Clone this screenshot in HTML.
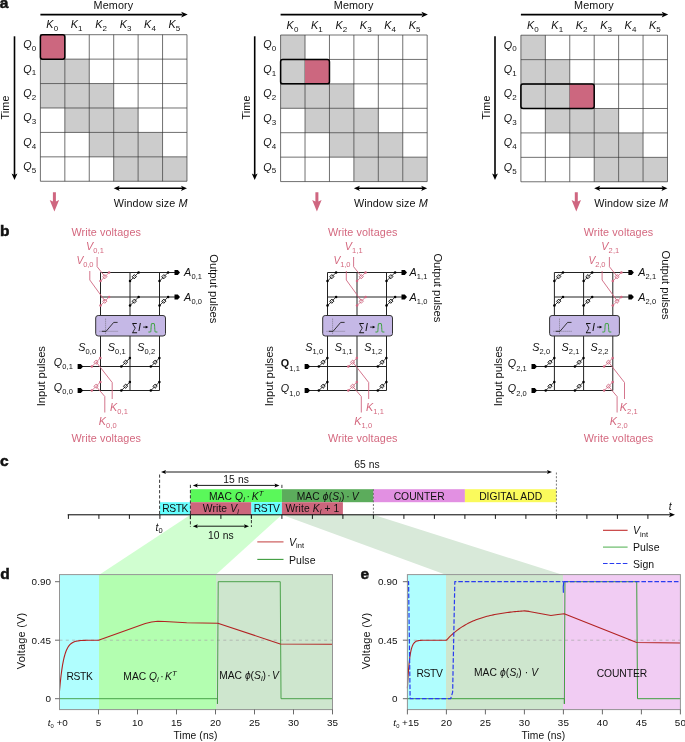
<!DOCTYPE html>
<html><head><meta charset="utf-8"><title>Figure</title>
<style>
html,body{margin:0;padding:0;background:#fff;}
svg{display:block;letter-spacing:0.1px;font-family:'Liberation Sans', sans-serif;fill:#111;}

</style></head><body>
<svg width="685" height="742" viewBox="0 0 685 742" font-family='"Liberation Sans", sans-serif'>
<rect x="40.40" y="34.70" width="24.43" height="24.43" fill="#cccccc"/>
<rect x="40.40" y="59.13" width="24.43" height="24.43" fill="#cccccc"/>
<rect x="64.83" y="59.13" width="24.43" height="24.43" fill="#cccccc"/>
<rect x="40.40" y="83.56" width="24.43" height="24.43" fill="#cccccc"/>
<rect x="64.83" y="83.56" width="24.43" height="24.43" fill="#cccccc"/>
<rect x="89.26" y="83.56" width="24.43" height="24.43" fill="#cccccc"/>
<rect x="64.83" y="107.99" width="24.43" height="24.43" fill="#cccccc"/>
<rect x="89.26" y="107.99" width="24.43" height="24.43" fill="#cccccc"/>
<rect x="113.69" y="107.99" width="24.43" height="24.43" fill="#cccccc"/>
<rect x="89.26" y="132.42" width="24.43" height="24.43" fill="#cccccc"/>
<rect x="113.69" y="132.42" width="24.43" height="24.43" fill="#cccccc"/>
<rect x="138.12" y="132.42" width="24.43" height="24.43" fill="#cccccc"/>
<rect x="113.69" y="156.85" width="24.43" height="24.43" fill="#cccccc"/>
<rect x="138.12" y="156.85" width="24.43" height="24.43" fill="#cccccc"/>
<rect x="162.55" y="156.85" width="24.43" height="24.43" fill="#cccccc"/>
<line x1="40.40" y1="34.7" x2="40.40" y2="181.28" stroke="#333" stroke-width="0.7"/>
<line x1="40.4" y1="34.70" x2="186.98" y2="34.70" stroke="#333" stroke-width="0.7"/>
<line x1="64.83" y1="34.7" x2="64.83" y2="181.28" stroke="#333" stroke-width="0.7"/>
<line x1="40.4" y1="59.13" x2="186.98" y2="59.13" stroke="#333" stroke-width="0.7"/>
<line x1="89.26" y1="34.7" x2="89.26" y2="181.28" stroke="#333" stroke-width="0.7"/>
<line x1="40.4" y1="83.56" x2="186.98" y2="83.56" stroke="#333" stroke-width="0.7"/>
<line x1="113.69" y1="34.7" x2="113.69" y2="181.28" stroke="#333" stroke-width="0.7"/>
<line x1="40.4" y1="107.99" x2="186.98" y2="107.99" stroke="#333" stroke-width="0.7"/>
<line x1="138.12" y1="34.7" x2="138.12" y2="181.28" stroke="#333" stroke-width="0.7"/>
<line x1="40.4" y1="132.42" x2="186.98" y2="132.42" stroke="#333" stroke-width="0.7"/>
<line x1="162.55" y1="34.7" x2="162.55" y2="181.28" stroke="#333" stroke-width="0.7"/>
<line x1="40.4" y1="156.85" x2="186.98" y2="156.85" stroke="#333" stroke-width="0.7"/>
<line x1="186.98" y1="34.7" x2="186.98" y2="181.28" stroke="#333" stroke-width="0.7"/>
<line x1="40.4" y1="181.28" x2="186.98" y2="181.28" stroke="#333" stroke-width="0.7"/>
<rect x="40.40" y="34.70" width="24.43" height="24.43" fill="#cc677f"/>
<rect x="40.40" y="34.70" width="24.43" height="24.43" rx="2.2" fill="none" stroke="#000" stroke-width="1.5"/>
<text x="52.31" y="28.40" text-anchor="middle" font-size="10.8"><tspan font-style="italic">K</tspan><tspan font-size="8.0" dy="3.0">0</tspan></text>
<text x="76.74" y="28.40" text-anchor="middle" font-size="10.8"><tspan font-style="italic">K</tspan><tspan font-size="8.0" dy="3.0">1</tspan></text>
<text x="101.17" y="28.40" text-anchor="middle" font-size="10.8"><tspan font-style="italic">K</tspan><tspan font-size="8.0" dy="3.0">2</tspan></text>
<text x="125.61" y="28.40" text-anchor="middle" font-size="10.8"><tspan font-style="italic">K</tspan><tspan font-size="8.0" dy="3.0">3</tspan></text>
<text x="150.03" y="28.40" text-anchor="middle" font-size="10.8"><tspan font-style="italic">K</tspan><tspan font-size="8.0" dy="3.0">4</tspan></text>
<text x="174.47" y="28.40" text-anchor="middle" font-size="10.8"><tspan font-style="italic">K</tspan><tspan font-size="8.0" dy="3.0">5</tspan></text>
<text x="36.20" y="48.12" text-anchor="end" font-size="10.8"><tspan font-style="italic">Q</tspan><tspan font-size="8.0" dy="2.8">0</tspan></text>
<text x="36.20" y="72.55" text-anchor="end" font-size="10.8"><tspan font-style="italic">Q</tspan><tspan font-size="8.0" dy="2.8">1</tspan></text>
<text x="36.20" y="96.98" text-anchor="end" font-size="10.8"><tspan font-style="italic">Q</tspan><tspan font-size="8.0" dy="2.8">2</tspan></text>
<text x="36.20" y="121.41" text-anchor="end" font-size="10.8"><tspan font-style="italic">Q</tspan><tspan font-size="8.0" dy="2.8">3</tspan></text>
<text x="36.20" y="145.83" text-anchor="end" font-size="10.8"><tspan font-style="italic">Q</tspan><tspan font-size="8.0" dy="2.8">4</tspan></text>
<text x="36.20" y="170.26" text-anchor="end" font-size="10.8"><tspan font-style="italic">Q</tspan><tspan font-size="8.0" dy="2.8">5</tspan></text>
<text x="113.40" y="9.1" text-anchor="middle" font-size="10.8">Memory</text>
<line x1="40.4" y1="14.6" x2="182.40" y2="14.6" stroke="#000" stroke-width="1.6"/>
<path d="M187.70 14.6 l-6.5 -2.9 l1.5 2.9 l-1.5 2.9 z" fill="#000"/>
<line x1="14.50" y1="36.3" x2="14.50" y2="175" stroke="#000" stroke-width="1.6"/>
<path d="M14.50 180 l-2.9 -6.5 l2.9 1.5 l2.9 -1.5 z" fill="#000"/>
<text transform="translate(9.30 107.5) rotate(-90)" text-anchor="middle" font-size="10.8">Time</text>
<line x1="117.69" y1="188.3" x2="182.98" y2="188.3" stroke="#000" stroke-width="1.5"/>
<path d="M113.69 188.3 l6 -2.6 l-1.4 2.6 l1.4 2.6 z" fill="#000"/>
<path d="M186.98 188.3 l-6 -2.6 l1.4 2.6 l-1.4 2.6 z" fill="#000"/>
<text x="187.60" y="206.8" text-anchor="end" font-size="10.8">Window size <tspan font-style="italic">M</tspan></text>
<path d="M52.90 192.3 h3 v9.3 l3.2 -1.6 l-4.7 11.6 l-4.7 -11.6 l3.2 1.6 z" fill="#cf6680"/>
<rect x="280.60" y="35.00" width="24.43" height="24.43" fill="#cccccc"/>
<rect x="280.60" y="59.43" width="24.43" height="24.43" fill="#cccccc"/>
<rect x="305.03" y="59.43" width="24.43" height="24.43" fill="#cccccc"/>
<rect x="280.60" y="83.86" width="24.43" height="24.43" fill="#cccccc"/>
<rect x="305.03" y="83.86" width="24.43" height="24.43" fill="#cccccc"/>
<rect x="329.46" y="83.86" width="24.43" height="24.43" fill="#cccccc"/>
<rect x="305.03" y="108.29" width="24.43" height="24.43" fill="#cccccc"/>
<rect x="329.46" y="108.29" width="24.43" height="24.43" fill="#cccccc"/>
<rect x="353.89" y="108.29" width="24.43" height="24.43" fill="#cccccc"/>
<rect x="329.46" y="132.72" width="24.43" height="24.43" fill="#cccccc"/>
<rect x="353.89" y="132.72" width="24.43" height="24.43" fill="#cccccc"/>
<rect x="378.32" y="132.72" width="24.43" height="24.43" fill="#cccccc"/>
<rect x="353.89" y="157.15" width="24.43" height="24.43" fill="#cccccc"/>
<rect x="378.32" y="157.15" width="24.43" height="24.43" fill="#cccccc"/>
<rect x="402.75" y="157.15" width="24.43" height="24.43" fill="#cccccc"/>
<line x1="280.60" y1="35.0" x2="280.60" y2="181.58" stroke="#333" stroke-width="0.7"/>
<line x1="280.6" y1="35.00" x2="427.18" y2="35.00" stroke="#333" stroke-width="0.7"/>
<line x1="305.03" y1="35.0" x2="305.03" y2="181.58" stroke="#333" stroke-width="0.7"/>
<line x1="280.6" y1="59.43" x2="427.18" y2="59.43" stroke="#333" stroke-width="0.7"/>
<line x1="329.46" y1="35.0" x2="329.46" y2="181.58" stroke="#333" stroke-width="0.7"/>
<line x1="280.6" y1="83.86" x2="427.18" y2="83.86" stroke="#333" stroke-width="0.7"/>
<line x1="353.89" y1="35.0" x2="353.89" y2="181.58" stroke="#333" stroke-width="0.7"/>
<line x1="280.6" y1="108.29" x2="427.18" y2="108.29" stroke="#333" stroke-width="0.7"/>
<line x1="378.32" y1="35.0" x2="378.32" y2="181.58" stroke="#333" stroke-width="0.7"/>
<line x1="280.6" y1="132.72" x2="427.18" y2="132.72" stroke="#333" stroke-width="0.7"/>
<line x1="402.75" y1="35.0" x2="402.75" y2="181.58" stroke="#333" stroke-width="0.7"/>
<line x1="280.6" y1="157.15" x2="427.18" y2="157.15" stroke="#333" stroke-width="0.7"/>
<line x1="427.18" y1="35.0" x2="427.18" y2="181.58" stroke="#333" stroke-width="0.7"/>
<line x1="280.6" y1="181.58" x2="427.18" y2="181.58" stroke="#333" stroke-width="0.7"/>
<rect x="305.03" y="59.43" width="24.43" height="24.43" fill="#cc677f"/>
<rect x="280.60" y="59.43" width="48.86" height="24.43" rx="2.2" fill="none" stroke="#000" stroke-width="1.5"/>
<text x="292.51" y="28.70" text-anchor="middle" font-size="10.8"><tspan font-style="italic">K</tspan><tspan font-size="8.0" dy="3.0">0</tspan></text>
<text x="316.94" y="28.70" text-anchor="middle" font-size="10.8"><tspan font-style="italic">K</tspan><tspan font-size="8.0" dy="3.0">1</tspan></text>
<text x="341.38" y="28.70" text-anchor="middle" font-size="10.8"><tspan font-style="italic">K</tspan><tspan font-size="8.0" dy="3.0">2</tspan></text>
<text x="365.81" y="28.70" text-anchor="middle" font-size="10.8"><tspan font-style="italic">K</tspan><tspan font-size="8.0" dy="3.0">3</tspan></text>
<text x="390.24" y="28.70" text-anchor="middle" font-size="10.8"><tspan font-style="italic">K</tspan><tspan font-size="8.0" dy="3.0">4</tspan></text>
<text x="414.67" y="28.70" text-anchor="middle" font-size="10.8"><tspan font-style="italic">K</tspan><tspan font-size="8.0" dy="3.0">5</tspan></text>
<text x="276.40" y="48.42" text-anchor="end" font-size="10.8"><tspan font-style="italic">Q</tspan><tspan font-size="8.0" dy="2.8">0</tspan></text>
<text x="276.40" y="72.84" text-anchor="end" font-size="10.8"><tspan font-style="italic">Q</tspan><tspan font-size="8.0" dy="2.8">1</tspan></text>
<text x="276.40" y="97.28" text-anchor="end" font-size="10.8"><tspan font-style="italic">Q</tspan><tspan font-size="8.0" dy="2.8">2</tspan></text>
<text x="276.40" y="121.70" text-anchor="end" font-size="10.8"><tspan font-style="italic">Q</tspan><tspan font-size="8.0" dy="2.8">3</tspan></text>
<text x="276.40" y="146.13" text-anchor="end" font-size="10.8"><tspan font-style="italic">Q</tspan><tspan font-size="8.0" dy="2.8">4</tspan></text>
<text x="276.40" y="170.56" text-anchor="end" font-size="10.8"><tspan font-style="italic">Q</tspan><tspan font-size="8.0" dy="2.8">5</tspan></text>
<text x="353.60" y="9.1" text-anchor="middle" font-size="10.8">Memory</text>
<line x1="280.6" y1="14.6" x2="422.60" y2="14.6" stroke="#000" stroke-width="1.6"/>
<path d="M427.90 14.6 l-6.5 -2.9 l1.5 2.9 l-1.5 2.9 z" fill="#000"/>
<line x1="254.70" y1="36.3" x2="254.70" y2="175" stroke="#000" stroke-width="1.6"/>
<path d="M254.70 180 l-2.9 -6.5 l2.9 1.5 l2.9 -1.5 z" fill="#000"/>
<text transform="translate(249.50 107.5) rotate(-90)" text-anchor="middle" font-size="10.8">Time</text>
<line x1="357.89" y1="188.3" x2="423.18" y2="188.3" stroke="#000" stroke-width="1.5"/>
<path d="M353.89 188.3 l6 -2.6 l-1.4 2.6 l1.4 2.6 z" fill="#000"/>
<path d="M427.18 188.3 l-6 -2.6 l1.4 2.6 l-1.4 2.6 z" fill="#000"/>
<text x="427.80" y="206.8" text-anchor="end" font-size="10.8">Window size <tspan font-style="italic">M</tspan></text>
<path d="M315.40 192.3 h3 v9.3 l3.2 -1.6 l-4.7 11.6 l-4.7 -11.6 l3.2 1.6 z" fill="#cf6680"/>
<rect x="520.90" y="35.20" width="24.43" height="24.43" fill="#cccccc"/>
<rect x="520.90" y="59.63" width="24.43" height="24.43" fill="#cccccc"/>
<rect x="545.33" y="59.63" width="24.43" height="24.43" fill="#cccccc"/>
<rect x="520.90" y="84.06" width="24.43" height="24.43" fill="#cccccc"/>
<rect x="545.33" y="84.06" width="24.43" height="24.43" fill="#cccccc"/>
<rect x="569.76" y="84.06" width="24.43" height="24.43" fill="#cccccc"/>
<rect x="545.33" y="108.49" width="24.43" height="24.43" fill="#cccccc"/>
<rect x="569.76" y="108.49" width="24.43" height="24.43" fill="#cccccc"/>
<rect x="594.19" y="108.49" width="24.43" height="24.43" fill="#cccccc"/>
<rect x="569.76" y="132.92" width="24.43" height="24.43" fill="#cccccc"/>
<rect x="594.19" y="132.92" width="24.43" height="24.43" fill="#cccccc"/>
<rect x="618.62" y="132.92" width="24.43" height="24.43" fill="#cccccc"/>
<rect x="594.19" y="157.35" width="24.43" height="24.43" fill="#cccccc"/>
<rect x="618.62" y="157.35" width="24.43" height="24.43" fill="#cccccc"/>
<rect x="643.05" y="157.35" width="24.43" height="24.43" fill="#cccccc"/>
<line x1="520.90" y1="35.2" x2="520.90" y2="181.78" stroke="#333" stroke-width="0.7"/>
<line x1="520.9" y1="35.20" x2="667.48" y2="35.20" stroke="#333" stroke-width="0.7"/>
<line x1="545.33" y1="35.2" x2="545.33" y2="181.78" stroke="#333" stroke-width="0.7"/>
<line x1="520.9" y1="59.63" x2="667.48" y2="59.63" stroke="#333" stroke-width="0.7"/>
<line x1="569.76" y1="35.2" x2="569.76" y2="181.78" stroke="#333" stroke-width="0.7"/>
<line x1="520.9" y1="84.06" x2="667.48" y2="84.06" stroke="#333" stroke-width="0.7"/>
<line x1="594.19" y1="35.2" x2="594.19" y2="181.78" stroke="#333" stroke-width="0.7"/>
<line x1="520.9" y1="108.49" x2="667.48" y2="108.49" stroke="#333" stroke-width="0.7"/>
<line x1="618.62" y1="35.2" x2="618.62" y2="181.78" stroke="#333" stroke-width="0.7"/>
<line x1="520.9" y1="132.92" x2="667.48" y2="132.92" stroke="#333" stroke-width="0.7"/>
<line x1="643.05" y1="35.2" x2="643.05" y2="181.78" stroke="#333" stroke-width="0.7"/>
<line x1="520.9" y1="157.35" x2="667.48" y2="157.35" stroke="#333" stroke-width="0.7"/>
<line x1="667.48" y1="35.2" x2="667.48" y2="181.78" stroke="#333" stroke-width="0.7"/>
<line x1="520.9" y1="181.78" x2="667.48" y2="181.78" stroke="#333" stroke-width="0.7"/>
<rect x="569.76" y="84.06" width="24.43" height="24.43" fill="#cc677f"/>
<rect x="520.90" y="84.06" width="73.29" height="24.43" rx="2.2" fill="none" stroke="#000" stroke-width="1.5"/>
<text x="532.82" y="28.90" text-anchor="middle" font-size="10.8"><tspan font-style="italic">K</tspan><tspan font-size="8.0" dy="3.0">0</tspan></text>
<text x="557.25" y="28.90" text-anchor="middle" font-size="10.8"><tspan font-style="italic">K</tspan><tspan font-size="8.0" dy="3.0">1</tspan></text>
<text x="581.68" y="28.90" text-anchor="middle" font-size="10.8"><tspan font-style="italic">K</tspan><tspan font-size="8.0" dy="3.0">2</tspan></text>
<text x="606.11" y="28.90" text-anchor="middle" font-size="10.8"><tspan font-style="italic">K</tspan><tspan font-size="8.0" dy="3.0">3</tspan></text>
<text x="630.54" y="28.90" text-anchor="middle" font-size="10.8"><tspan font-style="italic">K</tspan><tspan font-size="8.0" dy="3.0">4</tspan></text>
<text x="654.97" y="28.90" text-anchor="middle" font-size="10.8"><tspan font-style="italic">K</tspan><tspan font-size="8.0" dy="3.0">5</tspan></text>
<text x="516.70" y="48.62" text-anchor="end" font-size="10.8"><tspan font-style="italic">Q</tspan><tspan font-size="8.0" dy="2.8">0</tspan></text>
<text x="516.70" y="73.05" text-anchor="end" font-size="10.8"><tspan font-style="italic">Q</tspan><tspan font-size="8.0" dy="2.8">1</tspan></text>
<text x="516.70" y="97.48" text-anchor="end" font-size="10.8"><tspan font-style="italic">Q</tspan><tspan font-size="8.0" dy="2.8">2</tspan></text>
<text x="516.70" y="121.91" text-anchor="end" font-size="10.8"><tspan font-style="italic">Q</tspan><tspan font-size="8.0" dy="2.8">3</tspan></text>
<text x="516.70" y="146.33" text-anchor="end" font-size="10.8"><tspan font-style="italic">Q</tspan><tspan font-size="8.0" dy="2.8">4</tspan></text>
<text x="516.70" y="170.76" text-anchor="end" font-size="10.8"><tspan font-style="italic">Q</tspan><tspan font-size="8.0" dy="2.8">5</tspan></text>
<text x="593.90" y="9.1" text-anchor="middle" font-size="10.8">Memory</text>
<line x1="520.9" y1="14.6" x2="662.90" y2="14.6" stroke="#000" stroke-width="1.6"/>
<path d="M668.20 14.6 l-6.5 -2.9 l1.5 2.9 l-1.5 2.9 z" fill="#000"/>
<line x1="495.00" y1="36.3" x2="495.00" y2="175" stroke="#000" stroke-width="1.6"/>
<path d="M495.00 180 l-2.9 -6.5 l2.9 1.5 l2.9 -1.5 z" fill="#000"/>
<text transform="translate(489.80 107.5) rotate(-90)" text-anchor="middle" font-size="10.8">Time</text>
<line x1="598.19" y1="188.3" x2="663.48" y2="188.3" stroke="#000" stroke-width="1.5"/>
<path d="M594.19 188.3 l6 -2.6 l-1.4 2.6 l1.4 2.6 z" fill="#000"/>
<path d="M667.48 188.3 l-6 -2.6 l1.4 2.6 l-1.4 2.6 z" fill="#000"/>
<text x="668.10" y="206.8" text-anchor="end" font-size="10.8">Window size <tspan font-style="italic">M</tspan></text>
<path d="M574.80 192.3 h3 v9.3 l3.2 -1.6 l-4.7 11.6 l-4.7 -11.6 l3.2 1.6 z" fill="#cf6680"/>
<line x1="100.50" y1="272.5" x2="100.50" y2="390.5" stroke="#222" stroke-width="1"/>
<line x1="130.00" y1="272.5" x2="130.00" y2="390.5" stroke="#222" stroke-width="1"/>
<line x1="159.50" y1="272.5" x2="159.50" y2="390.5" stroke="#222" stroke-width="1"/>
<line x1="100.50" y1="272.5" x2="175.50" y2="272.5" stroke="#222" stroke-width="1"/>
<path d="M174.50 270.0 h3.3 l2.2 2.5 l-2.2 2.5 h-3.3 z" fill="#000"/>
<line x1="100.50" y1="297.0" x2="175.50" y2="297.0" stroke="#222" stroke-width="1"/>
<path d="M174.50 294.5 h3.3 l2.2 2.5 l-2.2 2.5 h-3.3 z" fill="#000"/>
<line x1="80.50" y1="366.5" x2="159.50" y2="366.5" stroke="#222" stroke-width="1"/>
<path d="M77.60 364.0 h3.3 l2.2 2.5 l-2.2 2.5 h-3.3 z" fill="#000"/>
<line x1="80.50" y1="390.5" x2="159.50" y2="390.5" stroke="#222" stroke-width="1"/>
<path d="M77.60 388.0 h3.3 l2.2 2.5 l-2.2 2.5 h-3.3 z" fill="#000"/>
<line x1="100.50" y1="281.10" x2="109.10" y2="272.50" stroke="#cf6680" stroke-width="0.8"/>
<circle cx="100.50" cy="281.10" r="1.25" fill="#cf6680"/>
<circle cx="109.10" cy="272.50" r="1.25" fill="#cf6680"/>
<rect x="103.25" y="275.25" width="3.1" height="2.9" transform="rotate(-45 104.80 276.70)" fill="#fff" fill-opacity="0.35" stroke="#cf6680" stroke-width="0.85"/>
<line x1="100.50" y1="305.60" x2="109.10" y2="297.00" stroke="#cf6680" stroke-width="0.8"/>
<circle cx="100.50" cy="305.60" r="1.25" fill="#cf6680"/>
<circle cx="109.10" cy="297.00" r="1.25" fill="#cf6680"/>
<rect x="103.25" y="299.75" width="3.1" height="2.9" transform="rotate(-45 104.80 301.20)" fill="#fff" fill-opacity="0.35" stroke="#cf6680" stroke-width="0.85"/>
<line x1="130.00" y1="281.10" x2="138.60" y2="272.50" stroke="#000" stroke-width="0.8"/>
<circle cx="130.00" cy="281.10" r="1.25" fill="#000"/>
<circle cx="138.60" cy="272.50" r="1.25" fill="#000"/>
<rect x="132.75" y="275.25" width="3.1" height="2.9" transform="rotate(-45 134.30 276.70)" fill="#fff" fill-opacity="0.35" stroke="#000" stroke-width="0.85"/>
<line x1="130.00" y1="305.60" x2="138.60" y2="297.00" stroke="#000" stroke-width="0.8"/>
<circle cx="130.00" cy="305.60" r="1.25" fill="#000"/>
<circle cx="138.60" cy="297.00" r="1.25" fill="#000"/>
<rect x="132.75" y="299.75" width="3.1" height="2.9" transform="rotate(-45 134.30 301.20)" fill="#fff" fill-opacity="0.35" stroke="#000" stroke-width="0.85"/>
<line x1="159.50" y1="281.10" x2="168.10" y2="272.50" stroke="#000" stroke-width="0.8"/>
<circle cx="159.50" cy="281.10" r="1.25" fill="#000"/>
<circle cx="168.10" cy="272.50" r="1.25" fill="#000"/>
<rect x="162.25" y="275.25" width="3.1" height="2.9" transform="rotate(-45 163.80 276.70)" fill="#fff" fill-opacity="0.35" stroke="#000" stroke-width="0.85"/>
<line x1="159.50" y1="305.60" x2="168.10" y2="297.00" stroke="#000" stroke-width="0.8"/>
<circle cx="159.50" cy="305.60" r="1.25" fill="#000"/>
<circle cx="168.10" cy="297.00" r="1.25" fill="#000"/>
<rect x="162.25" y="299.75" width="3.1" height="2.9" transform="rotate(-45 163.80 301.20)" fill="#fff" fill-opacity="0.35" stroke="#000" stroke-width="0.85"/>
<line x1="91.80" y1="366.60" x2="100.40" y2="358.00" stroke="#cf6680" stroke-width="0.8"/>
<circle cx="91.80" cy="366.60" r="1.25" fill="#cf6680"/>
<circle cx="100.40" cy="358.00" r="1.25" fill="#cf6680"/>
<rect x="94.55" y="360.75" width="3.1" height="2.9" transform="rotate(-45 96.10 362.20)" fill="#fff" fill-opacity="0.35" stroke="#cf6680" stroke-width="0.85"/>
<line x1="91.80" y1="390.60" x2="100.40" y2="382.00" stroke="#cf6680" stroke-width="0.8"/>
<circle cx="91.80" cy="390.60" r="1.25" fill="#cf6680"/>
<circle cx="100.40" cy="382.00" r="1.25" fill="#cf6680"/>
<rect x="94.55" y="384.75" width="3.1" height="2.9" transform="rotate(-45 96.10 386.20)" fill="#fff" fill-opacity="0.35" stroke="#cf6680" stroke-width="0.85"/>
<line x1="121.30" y1="366.60" x2="129.90" y2="358.00" stroke="#000" stroke-width="0.8"/>
<circle cx="121.30" cy="366.60" r="1.25" fill="#000"/>
<circle cx="129.90" cy="358.00" r="1.25" fill="#000"/>
<rect x="124.05" y="360.75" width="3.1" height="2.9" transform="rotate(-45 125.60 362.20)" fill="#fff" fill-opacity="0.35" stroke="#000" stroke-width="0.85"/>
<line x1="121.30" y1="390.60" x2="129.90" y2="382.00" stroke="#000" stroke-width="0.8"/>
<circle cx="121.30" cy="390.60" r="1.25" fill="#000"/>
<circle cx="129.90" cy="382.00" r="1.25" fill="#000"/>
<rect x="124.05" y="384.75" width="3.1" height="2.9" transform="rotate(-45 125.60 386.20)" fill="#fff" fill-opacity="0.35" stroke="#000" stroke-width="0.85"/>
<line x1="150.80" y1="366.60" x2="159.40" y2="358.00" stroke="#000" stroke-width="0.8"/>
<circle cx="150.80" cy="366.60" r="1.25" fill="#000"/>
<circle cx="159.40" cy="358.00" r="1.25" fill="#000"/>
<rect x="153.55" y="360.75" width="3.1" height="2.9" transform="rotate(-45 155.10 362.20)" fill="#fff" fill-opacity="0.35" stroke="#000" stroke-width="0.85"/>
<line x1="150.80" y1="390.60" x2="159.40" y2="382.00" stroke="#000" stroke-width="0.8"/>
<circle cx="150.80" cy="390.60" r="1.25" fill="#000"/>
<circle cx="159.40" cy="382.00" r="1.25" fill="#000"/>
<rect x="153.55" y="384.75" width="3.1" height="2.9" transform="rotate(-45 155.10 386.20)" fill="#fff" fill-opacity="0.35" stroke="#000" stroke-width="0.85"/>
<rect x="95.70" y="315.5" width="69.8" height="20.5" rx="2.5" fill="#c5b8e6" stroke="#333" stroke-width="1"/>
<line x1="105.60" y1="318.6" x2="105.60" y2="334" stroke="#555" stroke-width="0.5" stroke-dasharray="1.2 0.8"/>
<line x1="99.40" y1="331.3" x2="118.10" y2="331.3" stroke="#555" stroke-width="0.5" stroke-dasharray="1.2 0.8"/>
<path d="M101.90 331.3 H106.10 L113.70 322.4 H117.60" fill="none" stroke="#222" stroke-width="0.9"/>
<text x="131.40" y="330.6" font-size="11.5" letter-spacing="0" textLength="6.1" lengthAdjust="spacingAndGlyphs">∑</text>
<text x="138.10" y="330.8" font-size="10.8" font-style="italic">I</text>
<line x1="143.10" y1="327.1" x2="146.20" y2="327.1" stroke="#000" stroke-width="0.8"/>
<path d="M148.30 327.1 l-2.6 -1.4 v2.8 z" fill="#000"/>
<path d="M148.40 332 h2.1 c0.7 0 0.5 -8.4 1.1 -8.4 h2.6 c0.6 0 0.4 8.4 1.1 8.4 h2.1" fill="none" stroke="#2ca02c" stroke-width="0.9"/>
<text x="87.30" y="350.8" text-anchor="middle" font-size="10.8"><tspan font-style="italic">S</tspan><tspan font-size="7.5" dy="3.2">0,0</tspan></text>
<text x="116.80" y="350.8" text-anchor="middle" font-size="10.8"><tspan font-style="italic">S</tspan><tspan font-size="7.5" dy="3.2">0,1</tspan></text>
<text x="146.30" y="350.8" text-anchor="middle" font-size="10.8"><tspan font-style="italic">S</tspan><tspan font-size="7.5" dy="3.2">0,2</tspan></text>
<text x="184.10" y="275.8" font-size="10.8"><tspan font-style="italic">A</tspan><tspan font-size="7.5" dy="3.2">0,1</tspan></text>
<text x="184.10" y="300.7" font-size="10.8"><tspan font-style="italic">A</tspan><tspan font-size="7.5" dy="3.2">0,0</tspan></text>
<text x="73.00" y="365.7" text-anchor="end" font-size="10.8"><tspan font-style="italic">Q</tspan><tspan font-size="7.5" dy="3.2">0,1</tspan></text>
<text x="73.00" y="391.1" text-anchor="end" font-size="10.8"><tspan font-style="italic">Q</tspan><tspan font-size="7.5" dy="3.2">0,0</tspan></text>
<text transform="translate(209.60 288.8) rotate(90)" text-anchor="middle" font-size="11.2" letter-spacing="0">Output pulses</text>
<text transform="translate(44.70 376.2) rotate(-90)" text-anchor="middle" font-size="11.2" letter-spacing="0">Input pulses</text>
<text x="106.20" y="235.8" text-anchor="middle" font-size="10.8" fill="#d4687f">Write voltages</text>
<text x="106.20" y="441.6" text-anchor="middle" font-size="10.8" fill="#d4687f">Write voltages</text>
<text x="85.90" y="249.7" font-size="10.8" fill="#d4687f"><tspan font-style="italic">V</tspan><tspan font-size="7.5" dy="3.2">0,1</tspan></text>
<text x="76.50" y="264.0" font-size="10.3" letter-spacing="-0.1" fill="#d4687f"><tspan font-style="italic">V</tspan><tspan font-size="7.5" dy="3.2">0,0</tspan></text>
<path d="M97.10 257 V266.7 L105.00 276.6" fill="none" stroke="#cf6680" stroke-width="0.9"/>
<path d="M89.80 271 V280 L105.00 301" fill="none" stroke="#cf6680" stroke-width="0.9"/>
<path d="M96.20 362 L112.20 382.5 V399" fill="none" stroke="#cf6680" stroke-width="0.9"/>
<path d="M96.20 386.4 L104.80 396.5 V412.5" fill="none" stroke="#cf6680" stroke-width="0.9"/>
<text x="109.90" y="410.8" font-size="10.8" fill="#d4687f"><tspan font-style="italic">K</tspan><tspan font-size="7.5" dy="3.2">0,1</tspan></text>
<text x="98.80" y="424.8" font-size="10.8" fill="#d4687f"><tspan font-style="italic">K</tspan><tspan font-size="7.5" dy="3.2">0,0</tspan></text>
<line x1="327.50" y1="272.5" x2="327.50" y2="390.5" stroke="#222" stroke-width="1"/>
<line x1="357.00" y1="272.5" x2="357.00" y2="390.5" stroke="#222" stroke-width="1"/>
<line x1="386.50" y1="272.5" x2="386.50" y2="390.5" stroke="#222" stroke-width="1"/>
<line x1="327.50" y1="272.5" x2="402.50" y2="272.5" stroke="#222" stroke-width="1"/>
<path d="M401.50 270.0 h3.3 l2.2 2.5 l-2.2 2.5 h-3.3 z" fill="#000"/>
<line x1="327.50" y1="297.0" x2="402.50" y2="297.0" stroke="#222" stroke-width="1"/>
<path d="M401.50 294.5 h3.3 l2.2 2.5 l-2.2 2.5 h-3.3 z" fill="#000"/>
<line x1="307.50" y1="366.5" x2="386.50" y2="366.5" stroke="#222" stroke-width="1"/>
<path d="M304.60 364.0 h3.3 l2.2 2.5 l-2.2 2.5 h-3.3 z" fill="#000"/>
<line x1="307.50" y1="390.5" x2="386.50" y2="390.5" stroke="#222" stroke-width="1"/>
<path d="M304.60 388.0 h3.3 l2.2 2.5 l-2.2 2.5 h-3.3 z" fill="#000"/>
<line x1="327.50" y1="281.10" x2="336.10" y2="272.50" stroke="#000" stroke-width="0.8"/>
<circle cx="327.50" cy="281.10" r="1.25" fill="#000"/>
<circle cx="336.10" cy="272.50" r="1.25" fill="#000"/>
<rect x="330.25" y="275.25" width="3.1" height="2.9" transform="rotate(-45 331.80 276.70)" fill="#fff" fill-opacity="0.35" stroke="#000" stroke-width="0.85"/>
<line x1="327.50" y1="305.60" x2="336.10" y2="297.00" stroke="#000" stroke-width="0.8"/>
<circle cx="327.50" cy="305.60" r="1.25" fill="#000"/>
<circle cx="336.10" cy="297.00" r="1.25" fill="#000"/>
<rect x="330.25" y="299.75" width="3.1" height="2.9" transform="rotate(-45 331.80 301.20)" fill="#fff" fill-opacity="0.35" stroke="#000" stroke-width="0.85"/>
<line x1="357.00" y1="281.10" x2="365.60" y2="272.50" stroke="#cf6680" stroke-width="0.8"/>
<circle cx="357.00" cy="281.10" r="1.25" fill="#cf6680"/>
<circle cx="365.60" cy="272.50" r="1.25" fill="#cf6680"/>
<rect x="359.75" y="275.25" width="3.1" height="2.9" transform="rotate(-45 361.30 276.70)" fill="#fff" fill-opacity="0.35" stroke="#cf6680" stroke-width="0.85"/>
<line x1="357.00" y1="305.60" x2="365.60" y2="297.00" stroke="#cf6680" stroke-width="0.8"/>
<circle cx="357.00" cy="305.60" r="1.25" fill="#cf6680"/>
<circle cx="365.60" cy="297.00" r="1.25" fill="#cf6680"/>
<rect x="359.75" y="299.75" width="3.1" height="2.9" transform="rotate(-45 361.30 301.20)" fill="#fff" fill-opacity="0.35" stroke="#cf6680" stroke-width="0.85"/>
<line x1="386.50" y1="281.10" x2="395.10" y2="272.50" stroke="#000" stroke-width="0.8"/>
<circle cx="386.50" cy="281.10" r="1.25" fill="#000"/>
<circle cx="395.10" cy="272.50" r="1.25" fill="#000"/>
<rect x="389.25" y="275.25" width="3.1" height="2.9" transform="rotate(-45 390.80 276.70)" fill="#fff" fill-opacity="0.35" stroke="#000" stroke-width="0.85"/>
<line x1="386.50" y1="305.60" x2="395.10" y2="297.00" stroke="#000" stroke-width="0.8"/>
<circle cx="386.50" cy="305.60" r="1.25" fill="#000"/>
<circle cx="395.10" cy="297.00" r="1.25" fill="#000"/>
<rect x="389.25" y="299.75" width="3.1" height="2.9" transform="rotate(-45 390.80 301.20)" fill="#fff" fill-opacity="0.35" stroke="#000" stroke-width="0.85"/>
<line x1="318.80" y1="366.60" x2="327.40" y2="358.00" stroke="#000" stroke-width="0.8"/>
<circle cx="318.80" cy="366.60" r="1.25" fill="#000"/>
<circle cx="327.40" cy="358.00" r="1.25" fill="#000"/>
<rect x="321.55" y="360.75" width="3.1" height="2.9" transform="rotate(-45 323.10 362.20)" fill="#fff" fill-opacity="0.35" stroke="#000" stroke-width="0.85"/>
<line x1="318.80" y1="390.60" x2="327.40" y2="382.00" stroke="#000" stroke-width="0.8"/>
<circle cx="318.80" cy="390.60" r="1.25" fill="#000"/>
<circle cx="327.40" cy="382.00" r="1.25" fill="#000"/>
<rect x="321.55" y="384.75" width="3.1" height="2.9" transform="rotate(-45 323.10 386.20)" fill="#fff" fill-opacity="0.35" stroke="#000" stroke-width="0.85"/>
<line x1="348.30" y1="366.60" x2="356.90" y2="358.00" stroke="#cf6680" stroke-width="0.8"/>
<circle cx="348.30" cy="366.60" r="1.25" fill="#cf6680"/>
<circle cx="356.90" cy="358.00" r="1.25" fill="#cf6680"/>
<rect x="351.05" y="360.75" width="3.1" height="2.9" transform="rotate(-45 352.60 362.20)" fill="#fff" fill-opacity="0.35" stroke="#cf6680" stroke-width="0.85"/>
<line x1="348.30" y1="390.60" x2="356.90" y2="382.00" stroke="#cf6680" stroke-width="0.8"/>
<circle cx="348.30" cy="390.60" r="1.25" fill="#cf6680"/>
<circle cx="356.90" cy="382.00" r="1.25" fill="#cf6680"/>
<rect x="351.05" y="384.75" width="3.1" height="2.9" transform="rotate(-45 352.60 386.20)" fill="#fff" fill-opacity="0.35" stroke="#cf6680" stroke-width="0.85"/>
<line x1="377.80" y1="366.60" x2="386.40" y2="358.00" stroke="#000" stroke-width="0.8"/>
<circle cx="377.80" cy="366.60" r="1.25" fill="#000"/>
<circle cx="386.40" cy="358.00" r="1.25" fill="#000"/>
<rect x="380.55" y="360.75" width="3.1" height="2.9" transform="rotate(-45 382.10 362.20)" fill="#fff" fill-opacity="0.35" stroke="#000" stroke-width="0.85"/>
<line x1="377.80" y1="390.60" x2="386.40" y2="382.00" stroke="#000" stroke-width="0.8"/>
<circle cx="377.80" cy="390.60" r="1.25" fill="#000"/>
<circle cx="386.40" cy="382.00" r="1.25" fill="#000"/>
<rect x="380.55" y="384.75" width="3.1" height="2.9" transform="rotate(-45 382.10 386.20)" fill="#fff" fill-opacity="0.35" stroke="#000" stroke-width="0.85"/>
<rect x="322.70" y="315.5" width="69.8" height="20.5" rx="2.5" fill="#c5b8e6" stroke="#333" stroke-width="1"/>
<line x1="332.60" y1="318.6" x2="332.60" y2="334" stroke="#555" stroke-width="0.5" stroke-dasharray="1.2 0.8"/>
<line x1="326.40" y1="331.3" x2="345.10" y2="331.3" stroke="#555" stroke-width="0.5" stroke-dasharray="1.2 0.8"/>
<path d="M328.90 331.3 H333.10 L340.70 322.4 H344.60" fill="none" stroke="#222" stroke-width="0.9"/>
<text x="358.40" y="330.6" font-size="11.5" letter-spacing="0" textLength="6.1" lengthAdjust="spacingAndGlyphs">∑</text>
<text x="365.10" y="330.8" font-size="10.8" font-style="italic">I</text>
<line x1="370.10" y1="327.1" x2="373.20" y2="327.1" stroke="#000" stroke-width="0.8"/>
<path d="M375.30 327.1 l-2.6 -1.4 v2.8 z" fill="#000"/>
<path d="M375.40 332 h2.1 c0.7 0 0.5 -8.4 1.1 -8.4 h2.6 c0.6 0 0.4 8.4 1.1 8.4 h2.1" fill="none" stroke="#2ca02c" stroke-width="0.9"/>
<text x="314.30" y="350.8" text-anchor="middle" font-size="10.8"><tspan font-style="italic">S</tspan><tspan font-size="7.5" dy="3.2">1,0</tspan></text>
<text x="343.80" y="350.8" text-anchor="middle" font-size="10.8"><tspan font-style="italic">S</tspan><tspan font-size="7.5" dy="3.2">1,1</tspan></text>
<text x="373.30" y="350.8" text-anchor="middle" font-size="10.8"><tspan font-style="italic">S</tspan><tspan font-size="7.5" dy="3.2">1,2</tspan></text>
<text x="409.50" y="275.8" font-size="10.8"><tspan font-style="italic">A</tspan><tspan font-size="7.5" dy="3.2">1,1</tspan></text>
<text x="409.50" y="300.7" font-size="10.8"><tspan font-style="italic">A</tspan><tspan font-size="7.5" dy="3.2">1,0</tspan></text>
<text x="300.00" y="367.3" text-anchor="end" font-size="10.8"><tspan font-weight="bold">Q</tspan><tspan font-size="7.5" dy="3.2">1,1</tspan></text>
<text x="300.00" y="392.3" text-anchor="end" font-size="10.8"><tspan font-style="italic">Q</tspan><tspan font-size="7.5" dy="3.2">1,0</tspan></text>
<text transform="translate(433.90 287.9) rotate(90)" text-anchor="middle" font-size="11.2" letter-spacing="0">Output pulses</text>
<text transform="translate(273.20 376.2) rotate(-90)" text-anchor="middle" font-size="11.2" letter-spacing="0">Input pulses</text>
<text x="362.70" y="235.8" text-anchor="middle" font-size="10.8" fill="#d4687f">Write voltages</text>
<text x="362.70" y="441.6" text-anchor="middle" font-size="10.8" fill="#d4687f">Write voltages</text>
<text x="344.80" y="249.7" font-size="10.8" fill="#d4687f"><tspan font-style="italic">V</tspan><tspan font-size="7.5" dy="3.2">1,1</tspan></text>
<text x="333.40" y="264.0" font-size="10.3" letter-spacing="-0.1" fill="#d4687f"><tspan font-style="italic">V</tspan><tspan font-size="7.5" dy="3.2">1,0</tspan></text>
<path d="M353.60 257 V266.7 L361.50 276.6" fill="none" stroke="#cf6680" stroke-width="0.9"/>
<path d="M346.30 271 V280 L361.50 301" fill="none" stroke="#cf6680" stroke-width="0.9"/>
<path d="M352.70 362 L368.70 382.5 V399" fill="none" stroke="#cf6680" stroke-width="0.9"/>
<path d="M352.70 386.4 L361.30 396.5 V412.5" fill="none" stroke="#cf6680" stroke-width="0.9"/>
<text x="366.00" y="410.8" font-size="10.8" fill="#d4687f"><tspan font-style="italic">K</tspan><tspan font-size="7.5" dy="3.2">1,1</tspan></text>
<text x="354.20" y="424.8" font-size="10.8" fill="#d4687f"><tspan font-style="italic">K</tspan><tspan font-size="7.5" dy="3.2">1,0</tspan></text>
<line x1="554.40" y1="272.5" x2="554.40" y2="390.5" stroke="#222" stroke-width="1"/>
<line x1="583.60" y1="272.5" x2="583.60" y2="390.5" stroke="#222" stroke-width="1"/>
<line x1="612.80" y1="272.5" x2="612.80" y2="390.5" stroke="#222" stroke-width="1"/>
<line x1="554.40" y1="272.5" x2="629.40" y2="272.5" stroke="#222" stroke-width="1"/>
<path d="M628.40 270.0 h3.3 l2.2 2.5 l-2.2 2.5 h-3.3 z" fill="#000"/>
<line x1="554.40" y1="297.0" x2="629.40" y2="297.0" stroke="#222" stroke-width="1"/>
<path d="M628.40 294.5 h3.3 l2.2 2.5 l-2.2 2.5 h-3.3 z" fill="#000"/>
<line x1="534.40" y1="366.5" x2="612.80" y2="366.5" stroke="#222" stroke-width="1"/>
<path d="M531.50 364.0 h3.3 l2.2 2.5 l-2.2 2.5 h-3.3 z" fill="#000"/>
<line x1="534.40" y1="390.5" x2="612.80" y2="390.5" stroke="#222" stroke-width="1"/>
<path d="M531.50 388.0 h3.3 l2.2 2.5 l-2.2 2.5 h-3.3 z" fill="#000"/>
<line x1="554.40" y1="281.10" x2="563.00" y2="272.50" stroke="#000" stroke-width="0.8"/>
<circle cx="554.40" cy="281.10" r="1.25" fill="#000"/>
<circle cx="563.00" cy="272.50" r="1.25" fill="#000"/>
<rect x="557.15" y="275.25" width="3.1" height="2.9" transform="rotate(-45 558.70 276.70)" fill="#fff" fill-opacity="0.35" stroke="#000" stroke-width="0.85"/>
<line x1="554.40" y1="305.60" x2="563.00" y2="297.00" stroke="#000" stroke-width="0.8"/>
<circle cx="554.40" cy="305.60" r="1.25" fill="#000"/>
<circle cx="563.00" cy="297.00" r="1.25" fill="#000"/>
<rect x="557.15" y="299.75" width="3.1" height="2.9" transform="rotate(-45 558.70 301.20)" fill="#fff" fill-opacity="0.35" stroke="#000" stroke-width="0.85"/>
<line x1="583.60" y1="281.10" x2="592.20" y2="272.50" stroke="#000" stroke-width="0.8"/>
<circle cx="583.60" cy="281.10" r="1.25" fill="#000"/>
<circle cx="592.20" cy="272.50" r="1.25" fill="#000"/>
<rect x="586.35" y="275.25" width="3.1" height="2.9" transform="rotate(-45 587.90 276.70)" fill="#fff" fill-opacity="0.35" stroke="#000" stroke-width="0.85"/>
<line x1="583.60" y1="305.60" x2="592.20" y2="297.00" stroke="#000" stroke-width="0.8"/>
<circle cx="583.60" cy="305.60" r="1.25" fill="#000"/>
<circle cx="592.20" cy="297.00" r="1.25" fill="#000"/>
<rect x="586.35" y="299.75" width="3.1" height="2.9" transform="rotate(-45 587.90 301.20)" fill="#fff" fill-opacity="0.35" stroke="#000" stroke-width="0.85"/>
<line x1="612.80" y1="281.10" x2="621.40" y2="272.50" stroke="#cf6680" stroke-width="0.8"/>
<circle cx="612.80" cy="281.10" r="1.25" fill="#cf6680"/>
<circle cx="621.40" cy="272.50" r="1.25" fill="#cf6680"/>
<rect x="615.55" y="275.25" width="3.1" height="2.9" transform="rotate(-45 617.10 276.70)" fill="#fff" fill-opacity="0.35" stroke="#cf6680" stroke-width="0.85"/>
<line x1="612.80" y1="305.60" x2="621.40" y2="297.00" stroke="#cf6680" stroke-width="0.8"/>
<circle cx="612.80" cy="305.60" r="1.25" fill="#cf6680"/>
<circle cx="621.40" cy="297.00" r="1.25" fill="#cf6680"/>
<rect x="615.55" y="299.75" width="3.1" height="2.9" transform="rotate(-45 617.10 301.20)" fill="#fff" fill-opacity="0.35" stroke="#cf6680" stroke-width="0.85"/>
<line x1="545.70" y1="366.60" x2="554.30" y2="358.00" stroke="#000" stroke-width="0.8"/>
<circle cx="545.70" cy="366.60" r="1.25" fill="#000"/>
<circle cx="554.30" cy="358.00" r="1.25" fill="#000"/>
<rect x="548.45" y="360.75" width="3.1" height="2.9" transform="rotate(-45 550.00 362.20)" fill="#fff" fill-opacity="0.35" stroke="#000" stroke-width="0.85"/>
<line x1="545.70" y1="390.60" x2="554.30" y2="382.00" stroke="#000" stroke-width="0.8"/>
<circle cx="545.70" cy="390.60" r="1.25" fill="#000"/>
<circle cx="554.30" cy="382.00" r="1.25" fill="#000"/>
<rect x="548.45" y="384.75" width="3.1" height="2.9" transform="rotate(-45 550.00 386.20)" fill="#fff" fill-opacity="0.35" stroke="#000" stroke-width="0.85"/>
<line x1="574.90" y1="366.60" x2="583.50" y2="358.00" stroke="#000" stroke-width="0.8"/>
<circle cx="574.90" cy="366.60" r="1.25" fill="#000"/>
<circle cx="583.50" cy="358.00" r="1.25" fill="#000"/>
<rect x="577.65" y="360.75" width="3.1" height="2.9" transform="rotate(-45 579.20 362.20)" fill="#fff" fill-opacity="0.35" stroke="#000" stroke-width="0.85"/>
<line x1="574.90" y1="390.60" x2="583.50" y2="382.00" stroke="#000" stroke-width="0.8"/>
<circle cx="574.90" cy="390.60" r="1.25" fill="#000"/>
<circle cx="583.50" cy="382.00" r="1.25" fill="#000"/>
<rect x="577.65" y="384.75" width="3.1" height="2.9" transform="rotate(-45 579.20 386.20)" fill="#fff" fill-opacity="0.35" stroke="#000" stroke-width="0.85"/>
<line x1="604.10" y1="366.60" x2="612.70" y2="358.00" stroke="#cf6680" stroke-width="0.8"/>
<circle cx="604.10" cy="366.60" r="1.25" fill="#cf6680"/>
<circle cx="612.70" cy="358.00" r="1.25" fill="#cf6680"/>
<rect x="606.85" y="360.75" width="3.1" height="2.9" transform="rotate(-45 608.40 362.20)" fill="#fff" fill-opacity="0.35" stroke="#cf6680" stroke-width="0.85"/>
<line x1="604.10" y1="390.60" x2="612.70" y2="382.00" stroke="#cf6680" stroke-width="0.8"/>
<circle cx="604.10" cy="390.60" r="1.25" fill="#cf6680"/>
<circle cx="612.70" cy="382.00" r="1.25" fill="#cf6680"/>
<rect x="606.85" y="384.75" width="3.1" height="2.9" transform="rotate(-45 608.40 386.20)" fill="#fff" fill-opacity="0.35" stroke="#cf6680" stroke-width="0.85"/>
<rect x="549.60" y="315.5" width="69.8" height="20.5" rx="2.5" fill="#c5b8e6" stroke="#333" stroke-width="1"/>
<line x1="559.50" y1="318.6" x2="559.50" y2="334" stroke="#555" stroke-width="0.5" stroke-dasharray="1.2 0.8"/>
<line x1="553.30" y1="331.3" x2="572.00" y2="331.3" stroke="#555" stroke-width="0.5" stroke-dasharray="1.2 0.8"/>
<path d="M555.80 331.3 H560.00 L567.60 322.4 H571.50" fill="none" stroke="#222" stroke-width="0.9"/>
<text x="585.30" y="330.6" font-size="11.5" letter-spacing="0" textLength="6.1" lengthAdjust="spacingAndGlyphs">∑</text>
<text x="592.00" y="330.8" font-size="10.8" font-style="italic">I</text>
<line x1="597.00" y1="327.1" x2="600.10" y2="327.1" stroke="#000" stroke-width="0.8"/>
<path d="M602.20 327.1 l-2.6 -1.4 v2.8 z" fill="#000"/>
<path d="M602.30 332 h2.1 c0.7 0 0.5 -8.4 1.1 -8.4 h2.6 c0.6 0 0.4 8.4 1.1 8.4 h2.1" fill="none" stroke="#2ca02c" stroke-width="0.9"/>
<text x="541.20" y="350.8" text-anchor="middle" font-size="10.8"><tspan font-style="italic">S</tspan><tspan font-size="7.5" dy="3.2">2,0</tspan></text>
<text x="570.40" y="350.8" text-anchor="middle" font-size="10.8"><tspan font-style="italic">S</tspan><tspan font-size="7.5" dy="3.2">2,1</tspan></text>
<text x="599.60" y="350.8" text-anchor="middle" font-size="10.8"><tspan font-style="italic">S</tspan><tspan font-size="7.5" dy="3.2">2,2</tspan></text>
<text x="638.20" y="275.8" font-size="10.8"><tspan font-style="italic">A</tspan><tspan font-size="7.5" dy="3.2">2,1</tspan></text>
<text x="638.20" y="300.7" font-size="10.8"><tspan font-style="italic">A</tspan><tspan font-size="7.5" dy="3.2">2,0</tspan></text>
<text x="526.90" y="367.3" text-anchor="end" font-size="10.8"><tspan font-style="italic">Q</tspan><tspan font-size="7.5" dy="3.2">2,1</tspan></text>
<text x="526.90" y="392.3" text-anchor="end" font-size="10.8"><tspan font-style="italic">Q</tspan><tspan font-size="7.5" dy="3.2">2,0</tspan></text>
<text transform="translate(661.90 285.0) rotate(90)" text-anchor="middle" font-size="11.2" letter-spacing="0">Output pulses</text>
<text transform="translate(501.90 376.2) rotate(-90)" text-anchor="middle" font-size="11.2" letter-spacing="0">Input pulses</text>
<text x="618.50" y="235.8" text-anchor="middle" font-size="10.8" fill="#d4687f">Write voltages</text>
<text x="618.50" y="441.6" text-anchor="middle" font-size="10.8" fill="#d4687f">Write voltages</text>
<text x="601.30" y="249.7" font-size="10.8" fill="#d4687f"><tspan font-style="italic">V</tspan><tspan font-size="7.5" dy="3.2">2,1</tspan></text>
<text x="588.50" y="264.0" font-size="10.3" letter-spacing="-0.1" fill="#d4687f"><tspan font-style="italic">V</tspan><tspan font-size="7.5" dy="3.2">2,0</tspan></text>
<path d="M609.40 257 V266.7 L617.30 276.6" fill="none" stroke="#cf6680" stroke-width="0.9"/>
<path d="M602.10 271 V280 L617.30 301" fill="none" stroke="#cf6680" stroke-width="0.9"/>
<path d="M608.50 362 L624.50 382.5 V399" fill="none" stroke="#cf6680" stroke-width="0.9"/>
<path d="M608.50 386.4 L617.10 396.5 V412.5" fill="none" stroke="#cf6680" stroke-width="0.9"/>
<text x="619.80" y="410.8" font-size="10.8" fill="#d4687f"><tspan font-style="italic">K</tspan><tspan font-size="7.5" dy="3.2">2,1</tspan></text>
<text x="609.70" y="424.8" font-size="10.8" fill="#d4687f"><tspan font-style="italic">K</tspan><tspan font-size="7.5" dy="3.2">2,0</tspan></text>
<polygon points="190.40,514.8 281.90,514.8 215.5,575 98.9,575" fill="#d0fed0"/>
<polygon points="281.90,514.8 373.40,514.8 563.2,575 446.5,575" fill="#d8e9d9"/>
<rect x="159.90" y="502.2" width="30.50" height="12.60" fill="#66ffff"/>
<text x="175.15" y="512.20" text-anchor="middle" font-size="10.3" letter-spacing="-0.4">RSTK</text>
<rect x="190.40" y="489.2" width="91.50" height="13.00" fill="#5af85a"/>
<rect x="190.40" y="502.2" width="61.00" height="12.60" fill="#cc667c"/>
<rect x="251.40" y="502.2" width="30.50" height="12.60" fill="#66ffff"/>
<text x="266.65" y="512.20" text-anchor="middle" font-size="10.3" letter-spacing="-0.4">RSTV</text>
<rect x="281.90" y="489.2" width="91.50" height="13.00" fill="#5cac5c"/>
<rect x="281.90" y="502.2" width="61.00" height="12.60" fill="#cc667c"/>
<rect x="373.40" y="489.2" width="91.50" height="13.00" fill="#e290e2"/>
<text x="419.15" y="499.60" text-anchor="middle" font-size="10.3" letter-spacing="0">COUNTER</text>
<rect x="464.90" y="489.2" width="91.50" height="13.00" fill="#fafa5c"/>
<text x="510.65" y="499.60" text-anchor="middle" font-size="10.3" letter-spacing="0">DIGITAL ADD</text>
<text x="236.15" y="500" text-anchor="middle" font-size="10.3">MAC <tspan font-style="italic">Q</tspan><tspan font-size="7.5" dy="2" font-style="italic">i</tspan><tspan dy="-2" dx="1.6">·</tspan><tspan dx="1.6" font-style="italic">K</tspan><tspan font-size="7.7" dy="-4.2" font-style="italic">T</tspan></text>
<text x="220.90" y="512.2" text-anchor="middle" font-size="10.3">Write <tspan font-style="italic">V</tspan><tspan font-size="7.5" dy="2" font-style="italic">i</tspan></text>
<text x="327.65" y="500" text-anchor="middle" font-size="10.3">MAC <tspan font-style="italic">ϕ</tspan>(<tspan font-style="italic">S</tspan><tspan font-size="7.5" dy="2" font-style="italic">i</tspan><tspan dy="-2">)</tspan><tspan dx="1.8">·</tspan><tspan dx="1.8" font-style="italic">V</tspan></text>
<text x="312.40" y="512.2" text-anchor="middle" font-size="10.3">Write <tspan font-style="italic">K</tspan><tspan font-size="7.5" dy="2" font-style="italic">i</tspan><tspan dy="-2"> + 1</tspan></text>
<line x1="67.7" y1="514.8" x2="670" y2="514.8" stroke="#000" stroke-width="1"/>
<path d="M675 514.8 l-6 -2.5 l1.3 2.5 l-1.3 2.5 z" fill="#000"/>
<line x1="68.40" y1="514.8" x2="68.40" y2="518.9" stroke="#000" stroke-width="0.9"/>
<line x1="98.90" y1="514.8" x2="98.90" y2="518.9" stroke="#000" stroke-width="0.9"/>
<line x1="129.40" y1="514.8" x2="129.40" y2="518.9" stroke="#000" stroke-width="0.9"/>
<line x1="159.90" y1="514.8" x2="159.90" y2="518.9" stroke="#000" stroke-width="0.9"/>
<line x1="190.40" y1="514.8" x2="190.40" y2="518.9" stroke="#000" stroke-width="0.9"/>
<line x1="220.90" y1="514.8" x2="220.90" y2="518.9" stroke="#000" stroke-width="0.9"/>
<line x1="251.40" y1="514.8" x2="251.40" y2="518.9" stroke="#000" stroke-width="0.9"/>
<line x1="281.90" y1="514.8" x2="281.90" y2="518.9" stroke="#000" stroke-width="0.9"/>
<line x1="312.40" y1="514.8" x2="312.40" y2="518.9" stroke="#000" stroke-width="0.9"/>
<line x1="342.90" y1="514.8" x2="342.90" y2="518.9" stroke="#000" stroke-width="0.9"/>
<line x1="373.40" y1="514.8" x2="373.40" y2="518.9" stroke="#000" stroke-width="0.9"/>
<line x1="403.90" y1="514.8" x2="403.90" y2="518.9" stroke="#000" stroke-width="0.9"/>
<line x1="434.40" y1="514.8" x2="434.40" y2="518.9" stroke="#000" stroke-width="0.9"/>
<line x1="464.90" y1="514.8" x2="464.90" y2="518.9" stroke="#000" stroke-width="0.9"/>
<line x1="495.40" y1="514.8" x2="495.40" y2="518.9" stroke="#000" stroke-width="0.9"/>
<line x1="525.90" y1="514.8" x2="525.90" y2="518.9" stroke="#000" stroke-width="0.9"/>
<line x1="556.40" y1="514.8" x2="556.40" y2="518.9" stroke="#000" stroke-width="0.9"/>
<line x1="586.90" y1="514.8" x2="586.90" y2="518.9" stroke="#000" stroke-width="0.9"/>
<line x1="617.40" y1="514.8" x2="617.40" y2="518.9" stroke="#000" stroke-width="0.9"/>
<line x1="647.90" y1="514.8" x2="647.90" y2="518.9" stroke="#000" stroke-width="0.9"/>
<text x="670.3" y="509.5" text-anchor="middle" font-size="10.3" font-style="italic">t</text>
<text x="155.60" y="531.2" font-size="10.3"><tspan font-style="italic">t</tspan><tspan font-size="7.5" dy="2.2">0</tspan></text>
<line x1="159.60" y1="474.5" x2="159.60" y2="514.8" stroke="#222" stroke-width="0.9" stroke-dasharray="3.2 2"/>
<line x1="556.40" y1="472.5" x2="556.40" y2="514.8" stroke="#666" stroke-width="0.9" stroke-dasharray="2 1.7"/>
<line x1="190.40" y1="484.8" x2="190.40" y2="527" stroke="#222" stroke-width="0.9" stroke-dasharray="3.2 2"/>
<line x1="281.90" y1="484.8" x2="281.90" y2="490" stroke="#222" stroke-width="0.9" stroke-dasharray="3.2 2"/>
<line x1="251.40" y1="514.8" x2="251.40" y2="527" stroke="#222" stroke-width="0.9" stroke-dasharray="3.2 2"/>
<line x1="373.40" y1="489.2" x2="373.40" y2="514.8" stroke="#666" stroke-width="0.9" stroke-dasharray="2 1.7"/>
<line x1="164.00" y1="472.0" x2="549.00" y2="472.0" stroke="#000" stroke-width="0.9"/>
<path d="M161.00 472.0 l5 -2 l-1 2 l1 2 z" fill="#000"/>
<path d="M552.00 472.0 l-5 -2 l1 2 l-1 2 z" fill="#000"/>
<line x1="195.80" y1="485.4" x2="276.50" y2="485.4" stroke="#000" stroke-width="0.9"/>
<path d="M192.80 485.4 l5 -2 l-1 2 l1 2 z" fill="#000"/>
<path d="M279.50 485.4 l-5 -2 l1 2 l-1 2 z" fill="#000"/>
<line x1="195.80" y1="526.2" x2="246.00" y2="526.2" stroke="#000" stroke-width="0.9"/>
<path d="M192.80 526.2 l5 -2 l-1 2 l1 2 z" fill="#000"/>
<path d="M249.00 526.2 l-5 -2 l1 2 l-1 2 z" fill="#000"/>
<text x="367" y="468.3" text-anchor="middle" font-size="10.3">65 ns</text>
<text x="236.15" y="482.9" text-anchor="middle" font-size="10.3">15 ns</text>
<text x="220.90" y="538.8" text-anchor="middle" font-size="10.3">10 ns</text>
<line x1="257.3" y1="541.9" x2="283.5" y2="541.9" stroke="#c84d4d" stroke-width="1.1"/>
<text x="288.9" y="546.00" font-size="10.5"><tspan font-style="italic">V</tspan><tspan font-size="7.5" dy="2.2">int</tspan></text>
<line x1="257.3" y1="559.4" x2="283.5" y2="559.4" stroke="#3d9b3d" stroke-width="1.1"/>
<text x="288.9" y="563.50" font-size="10.5">Pulse</text>
<line x1="603" y1="530.3" x2="627.6" y2="530.3" stroke="#c22e2e" stroke-width="1.1"/>
<text x="632.9" y="534.40" font-size="10.5"><tspan font-style="italic">V</tspan><tspan font-size="7.5" dy="2.2">int</tspan></text>
<line x1="603" y1="547.1" x2="627.6" y2="547.1" stroke="#5bb55b" stroke-width="1.1"/>
<text x="632.9" y="551.20" font-size="10.5">Pulse</text>
<line x1="603" y1="563.5" x2="627.6" y2="563.5" stroke="#2a3cf0" stroke-width="1.1" stroke-dasharray="4.6 2"/>
<text x="632.9" y="567.60" font-size="10.5">Sign</text>
<rect x="59.50" y="574.6" width="39.00" height="135.0" fill="#b0fefe" shape-rendering="crispEdges"/>
<rect x="98.50" y="574.6" width="117.00" height="135.0" fill="#b3feb0" shape-rendering="crispEdges"/>
<rect x="215.50" y="574.6" width="117.00" height="135.0" fill="#cee6ce" shape-rendering="crispEdges"/>
<line x1="59.5" y1="640.20" x2="332.50" y2="640.20" stroke="#a8a8a8" stroke-width="0.7" stroke-dasharray="3 3.3"/>
<polyline points="59.50,698.70 217.45,698.70 217.45,703.90 218.23,581.70 280.24,581.70 281.02,698.70 332.50,698.70" fill="none" stroke="#3d9b3d" stroke-width="0.9" stroke-linejoin="round"/>
<polyline points="59.50,690.90 60.28,682.47 61.06,675.44 61.84,669.58 62.62,664.70 63.40,660.63 64.18,657.23 64.96,654.40 65.74,652.04 66.52,650.07 67.30,648.43 68.08,647.06 68.86,645.92 69.64,644.97 70.42,644.18 71.20,643.52 71.98,642.96 72.76,642.50 73.54,642.12 74.32,641.80 75.10,641.54 75.88,641.31 76.66,641.13 77.44,640.97 78.22,640.85 79.00,640.74 79.78,640.65 80.56,640.57 81.34,640.51 82.12,640.46 82.90,640.42 83.68,640.38 84.46,640.35 85.24,640.33 86.02,640.30 86.80,640.29 87.58,640.27 88.36,640.26 89.14,640.25 89.92,640.24 90.70,640.24 91.48,640.23 92.26,640.22 93.04,640.22 93.82,640.22 94.60,640.21 95.38,640.21 96.16,640.21 96.94,640.21 97.72,640.21 98.50,640.21 98.50,640.20 145.30,623.56 151.54,622.00 157.78,621.22 164.80,621.48 186.64,622.78 217.84,623.30 280.24,643.97 332.50,644.23" fill="none" stroke="#b22222" stroke-width="1.1" stroke-linejoin="round"/>
<rect x="59.5" y="574.6" width="273.00" height="135.0" fill="none" stroke="#949494" stroke-width="1"/>
<line x1="98.50" y1="709.6" x2="98.50" y2="714.4" stroke="#444" stroke-width="0.8"/>
<text x="98.50" y="726.2" text-anchor="middle" font-size="9.9">5</text>
<line x1="137.50" y1="709.6" x2="137.50" y2="714.4" stroke="#444" stroke-width="0.8"/>
<text x="137.50" y="726.2" text-anchor="middle" font-size="9.9">10</text>
<line x1="176.50" y1="709.6" x2="176.50" y2="714.4" stroke="#444" stroke-width="0.8"/>
<text x="176.50" y="726.2" text-anchor="middle" font-size="9.9">15</text>
<line x1="215.50" y1="709.6" x2="215.50" y2="714.4" stroke="#444" stroke-width="0.8"/>
<text x="215.50" y="726.2" text-anchor="middle" font-size="9.9">20</text>
<line x1="254.50" y1="709.6" x2="254.50" y2="714.4" stroke="#444" stroke-width="0.8"/>
<text x="254.50" y="726.2" text-anchor="middle" font-size="9.9">25</text>
<line x1="293.50" y1="709.6" x2="293.50" y2="714.4" stroke="#444" stroke-width="0.8"/>
<text x="293.50" y="726.2" text-anchor="middle" font-size="9.9">30</text>
<line x1="332.50" y1="709.6" x2="332.50" y2="714.4" stroke="#444" stroke-width="0.8"/>
<text x="332.50" y="726.2" text-anchor="middle" font-size="9.9">35</text>
<text x="67.90" y="726.2" text-anchor="end" font-size="9.9"><tspan font-style="italic">t</tspan><tspan font-size="5.8" dy="2">0</tspan><tspan dy="-2" dx="-0.3"> +0</tspan></text>
<line x1="55.0" y1="581.70" x2="59.5" y2="581.70" stroke="#444" stroke-width="0.8"/>
<text x="51.20" y="585.10" text-anchor="end" font-size="9.9">0.90</text>
<line x1="55.0" y1="640.20" x2="59.5" y2="640.20" stroke="#444" stroke-width="0.8"/>
<text x="51.20" y="643.60" text-anchor="end" font-size="9.9">0.45</text>
<line x1="55.0" y1="698.70" x2="59.5" y2="698.70" stroke="#444" stroke-width="0.8"/>
<text x="51.20" y="702.10" text-anchor="end" font-size="9.9">0</text>
<text transform="translate(24.90 640.9) rotate(-90)" text-anchor="middle" font-size="11" letter-spacing="0.2">Voltage (V)</text>
<text x="195.50" y="738.8" text-anchor="middle" font-size="10.3">Time (ns)</text>
<text x="79.47" y="680" text-anchor="middle" font-size="10.3" letter-spacing="-0.4">RSTK</text>
<text x="149.98" y="680" text-anchor="middle" font-size="10.3" letter-spacing="0">MAC <tspan font-style="italic">Q</tspan><tspan font-size="7.5" dy="2" font-style="italic">i</tspan><tspan dy="-2" dx="1.4">·</tspan><tspan dx="1.4" font-style="italic">K</tspan><tspan font-size="7.7" dy="-4.2" font-style="italic">T</tspan></text>
<text x="249.04" y="679.4" text-anchor="middle" font-size="10.3" letter-spacing="0">MAC <tspan font-style="italic">ϕ</tspan>(<tspan font-style="italic">S</tspan><tspan font-size="7.5" dy="2" font-style="italic">i</tspan><tspan dy="-2">)</tspan><tspan dx="1.3">·</tspan><tspan dx="1.3" font-style="italic">V</tspan></text>
<text x="0.3" y="578.5" font-size="15.5" font-weight="bold" stroke="#111" stroke-width="0.5" letter-spacing="0">d</text>
<rect x="407.40" y="574.6" width="39.00" height="135.0" fill="#b0fefe" shape-rendering="crispEdges"/>
<rect x="446.40" y="574.6" width="117.00" height="135.0" fill="#cee6ce" shape-rendering="crispEdges"/>
<rect x="563.40" y="574.6" width="117.00" height="135.0" fill="#f1ccf3" shape-rendering="crispEdges"/>
<line x1="407.4" y1="640.20" x2="680.40" y2="640.20" stroke="#a8a8a8" stroke-width="0.7" stroke-dasharray="3 3.3"/>
<polyline points="407.40,698.70 564.34,698.70 564.34,703.90 564.96,581.70 636.72,581.70 637.50,698.70 680.40,698.70" fill="none" stroke="#3f9f3f" stroke-width="1.0" stroke-linejoin="round"/>
<polyline points="407.40,688.30 408.02,677.04 408.65,668.42 409.27,661.81 409.90,656.75 410.52,652.88 411.14,649.91 411.77,647.64 412.39,645.90 413.02,644.56 413.64,643.54 414.26,642.76 414.89,642.16 415.51,641.70 416.14,641.35 416.76,641.08 417.38,640.87 418.01,640.72 418.63,640.60 419.26,640.50 419.88,640.43 420.50,640.38 421.13,640.34 421.75,640.30 422.38,640.28 423.00,640.26 423.62,640.25 424.25,640.24 424.87,640.23 425.50,640.22 426.12,640.22 426.74,640.21 427.37,640.21 427.99,640.21 428.62,640.21 429.24,640.20 429.86,640.20 430.49,640.20 431.11,640.20 431.74,640.20 432.36,640.20 432.98,640.20 433.61,640.20 434.23,640.20 434.86,640.20 435.48,640.20 436.10,640.20 436.73,640.20 437.35,640.20 437.98,640.20 438.60,640.20 439.22,640.20 439.85,640.20 440.47,640.20 441.10,640.20 441.72,640.20 442.34,640.20 442.97,640.20 443.59,640.20 444.22,640.20 444.84,640.20 445.46,640.20 446.09,640.20 446.40,640.20 447.96,638.51 449.52,636.91 451.08,635.40 452.64,633.97 454.20,632.62 455.76,631.34 457.32,630.13 458.88,628.99 460.44,627.91 462.00,626.88 463.56,625.91 465.12,625.00 466.68,624.13 468.24,623.31 469.80,622.53 471.36,621.80 472.92,621.11 474.48,620.45 476.04,619.83 477.60,619.24 479.16,618.69 480.72,618.16 482.28,617.66 483.84,617.19 485.40,616.75 486.96,616.33 488.52,615.93 490.08,615.55 491.64,615.19 493.20,614.86 494.76,614.54 496.32,614.24 497.88,613.95 499.44,613.68 501.00,613.43 502.56,613.18 504.12,612.96 505.68,612.74 507.24,612.53 508.80,612.34 510.36,612.16 511.92,611.99 513.48,611.82 515.04,611.67 516.60,611.52 518.16,611.38 519.72,611.25 521.28,611.13 522.84,611.01 524.40,610.90 529.08,611.42 540.00,613.50 550.92,615.58 557.94,614.54 564.18,613.68 636.72,642.54 680.40,643.06" fill="none" stroke="#b22222" stroke-width="1.1" stroke-linejoin="round"/>
<polyline points="407.40,581.70 408.57,581.70 410.13,698.70 450.69,698.70 452.64,692.20 454.82,581.70 563.40,581.70" fill="none" stroke="#2a3cf0" stroke-width="1.2" stroke-linejoin="round" stroke-dasharray="4.6 1.9"/>
<polyline points="563.40,581.70 680.40,581.70" fill="none" stroke="#2a3cf0" stroke-width="1.2" stroke-linejoin="round" stroke-dasharray="4.6 1.9"/>
<polyline points="563.79,581.70 563.24,586.90 563.40,592.75" fill="none" stroke="#2a3cf0" stroke-width="1.2" stroke-linejoin="round"/>
<rect x="407.4" y="574.6" width="273.00" height="135.0" fill="none" stroke="#949494" stroke-width="1"/>
<line x1="407.40" y1="709.6" x2="407.40" y2="714.4" stroke="#444" stroke-width="0.8"/>
<line x1="446.40" y1="709.6" x2="446.40" y2="714.4" stroke="#444" stroke-width="0.8"/>
<text x="446.40" y="726.2" text-anchor="middle" font-size="9.9">20</text>
<line x1="485.40" y1="709.6" x2="485.40" y2="714.4" stroke="#444" stroke-width="0.8"/>
<text x="485.40" y="726.2" text-anchor="middle" font-size="9.9">25</text>
<line x1="524.40" y1="709.6" x2="524.40" y2="714.4" stroke="#444" stroke-width="0.8"/>
<text x="524.40" y="726.2" text-anchor="middle" font-size="9.9">30</text>
<line x1="563.40" y1="709.6" x2="563.40" y2="714.4" stroke="#444" stroke-width="0.8"/>
<text x="563.40" y="726.2" text-anchor="middle" font-size="9.9">35</text>
<line x1="602.40" y1="709.6" x2="602.40" y2="714.4" stroke="#444" stroke-width="0.8"/>
<text x="602.40" y="726.2" text-anchor="middle" font-size="9.9">40</text>
<line x1="641.40" y1="709.6" x2="641.40" y2="714.4" stroke="#444" stroke-width="0.8"/>
<text x="641.40" y="726.2" text-anchor="middle" font-size="9.9">45</text>
<line x1="680.40" y1="709.6" x2="680.40" y2="714.4" stroke="#444" stroke-width="0.8"/>
<text x="680.40" y="726.2" text-anchor="middle" font-size="9.9">50</text>
<text x="419.10" y="726.2" text-anchor="end" font-size="9.9"><tspan font-style="italic">t</tspan><tspan font-size="5.8" dy="2">0</tspan><tspan dy="-2" dx="-0.3"> +15</tspan></text>
<line x1="402.9" y1="581.70" x2="407.4" y2="581.70" stroke="#444" stroke-width="0.8"/>
<text x="397.60" y="585.10" text-anchor="end" font-size="9.9">0.90</text>
<line x1="402.9" y1="640.20" x2="407.4" y2="640.20" stroke="#444" stroke-width="0.8"/>
<text x="397.60" y="643.60" text-anchor="end" font-size="9.9">0.45</text>
<line x1="402.9" y1="698.70" x2="407.4" y2="698.70" stroke="#444" stroke-width="0.8"/>
<text x="397.60" y="702.10" text-anchor="end" font-size="9.9">0</text>
<text transform="translate(370.10 640.9) rotate(-90)" text-anchor="middle" font-size="11" letter-spacing="0.2">Voltage (V)</text>
<text x="543.40" y="738.8" text-anchor="middle" font-size="10.3">Time (ns)</text>
<text x="429.47" y="677.3" text-anchor="middle" font-size="10.3" letter-spacing="-0.4">RSTV</text>
<text x="505.99" y="676.2" text-anchor="middle" font-size="10.3" letter-spacing="0.1">MAC <tspan font-style="italic">ϕ</tspan>(<tspan font-style="italic">S</tspan><tspan font-size="7.5" dy="2" font-style="italic">i</tspan><tspan dy="-2">) · </tspan><tspan font-style="italic">V</tspan></text>
<text x="621.90" y="677.2" text-anchor="middle" font-size="10.3" letter-spacing="-0.1">COUNTER</text>
<text x="360.4" y="578.5" font-size="15.5" font-weight="bold" stroke="#111" stroke-width="0.5" letter-spacing="0">e</text>
<text x="-0.3" y="8" font-size="15.5" font-weight="bold" stroke="#111" stroke-width="0.5" letter-spacing="0">a</text>
<text x="0" y="236" font-size="15.5" font-weight="bold" stroke="#111" stroke-width="0.5" letter-spacing="0">b</text>
<text x="0" y="466.2" font-size="15.5" font-weight="bold" stroke="#111" stroke-width="0.5" letter-spacing="0">c</text>
</svg>
</body></html>
